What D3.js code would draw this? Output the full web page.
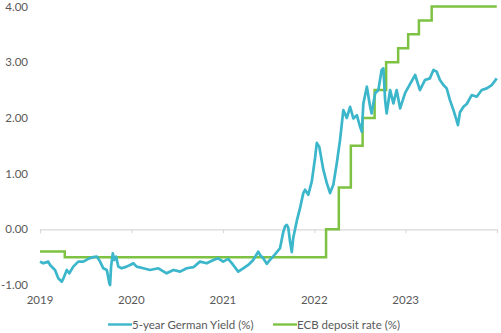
<!DOCTYPE html>
<html><head><meta charset="utf-8">
<script src="https://cdn.jsdelivr.net/npm/d3@7"></script>
<style>body{margin:0;background:#fff}svg{display:block}text{font-family:Lato,"Open Sans",sans-serif}</style>
</head><body><svg id="c" width="501" height="333"></svg>
<script>
const yieldDates = ["2019-01-01","2019-01-14","2019-02-03","2019-02-10","2019-03-02","2019-03-15","2019-03-29","2019-04-04","2019-04-18","2019-04-28","2019-05-14","2019-06-03","2019-06-23","2019-07-13","2019-08-02","2019-08-16","2019-08-29","2019-09-11","2019-09-25","2019-10-05","2019-10-08","2019-10-12","2019-10-19","2019-10-24","2019-11-01","2019-11-10","2019-11-23","2019-12-13","2019-12-27","2020-01-09","2020-01-22","2020-02-18","2020-03-16","2020-04-18","2020-05-21","2020-06-17","2020-07-14","2020-08-09","2020-09-05","2020-10-01","2020-10-28","2020-11-24","2020-12-13","2021-01-02","2021-01-22","2021-02-11","2021-03-03","2021-03-23","2021-04-12","2021-05-02","2021-05-22","2021-05-29","2021-06-11","2021-06-25","2021-07-08","2021-07-28","2021-08-17","2021-08-30","2021-09-06","2021-09-13","2021-09-19","2021-09-26","2021-10-03","2021-10-09","2021-10-23","2021-11-05","2021-11-18","2021-11-25","2021-12-08","2021-12-22","2022-01-04","2022-01-11","2022-01-21","2022-02-06","2022-02-20","2022-03-05","2022-03-18","2022-04-01","2022-04-14","2022-04-27","2022-05-11","2022-05-24","2022-06-06","2022-06-20","2022-07-03","2022-07-10","2022-07-16","2022-07-30","2022-08-12","2022-08-18","2022-09-01","2022-09-14","2022-09-27","2022-10-04","2022-10-11","2022-10-17","2022-10-31","2022-11-13","2022-11-26","2022-12-10","2022-12-30","2023-01-19","2023-02-08","2023-02-27","2023-03-19","2023-04-08","2023-04-22","2023-05-05","2023-05-18","2023-06-01","2023-06-14","2023-06-27","2023-07-11","2023-07-24","2023-07-29","2023-08-06","2023-08-20","2023-09-02","2023-09-22","2023-10-12","2023-11-01","2023-11-21","2023-12-11","2023-12-31"];
const yieldValues = [-0.58,-0.61,-0.58,-0.64,-0.73,-0.88,-0.94,-0.89,-0.73,-0.79,-0.67,-0.58,-0.58,-0.53,-0.50,-0.49,-0.58,-0.70,-0.73,-0.97,-1.00,-0.67,-0.43,-0.55,-0.49,-0.67,-0.70,-0.67,-0.64,-0.61,-0.67,-0.70,-0.73,-0.70,-0.79,-0.73,-0.76,-0.70,-0.68,-0.58,-0.61,-0.55,-0.52,-0.58,-0.53,-0.64,-0.76,-0.70,-0.64,-0.55,-0.40,-0.46,-0.52,-0.62,-0.55,-0.45,-0.34,-0.05,0.05,0.08,0.03,-0.22,-0.41,-0.15,0.15,0.38,0.65,0.71,0.62,0.86,1.28,1.55,1.48,1.07,0.83,0.65,0.80,1.19,1.61,2.14,2.00,2.20,1.99,2.05,1.84,1.75,2.26,2.56,2.20,2.08,2.44,2.50,2.86,2.89,2.32,2.08,2.50,2.26,2.50,2.17,2.45,2.61,2.77,2.50,2.68,2.71,2.86,2.83,2.68,2.59,2.53,2.32,2.14,1.95,1.87,2.10,2.20,2.25,2.41,2.38,2.50,2.53,2.59,2.71];
const ecbDates = ["2019-01-01","2019-04-10","2022-02-17","2022-04-09","2022-05-27","2022-07-13","2022-08-30","2022-10-15","2022-12-02","2023-01-11","2023-02-23","2023-04-15","2023-12-31"];
const ecbValues = [-0.40,-0.50,0.00,0.75,1.50,2.00,2.50,3.00,3.25,3.50,3.75,4.00,4.00];
const yTicks = [-1,0,1,2,3,4];
const xTickLabels = ["2019","2020","2021","2022","2023"];
const seriesNames = ["5-year German Yield (%)","ECB deposit rate (%)"];
const seriesColors = ["#3bb6ca","#7dc242"];

const parse = d3.timeParse("%Y-%m-%d");
const svg = d3.select("#c");
const x = d3.scaleTime().domain([new Date(2019,0,1), new Date(2024,0,1)]).range([40,497]);
const y = d3.scaleLinear().domain([-1,4]).range([285,6.5]);
const txt = "#595959";

svg.append("g").selectAll("text").data(yTicks).join("text")
  .attr("x",28).attr("y",d=>y(d)).attr("dy","0.35em").attr("text-anchor","end")
  .attr("font-size",11.5).attr("fill",txt)
  .text(d=>d3.format(".2f")(d).replace("\u2212","-"));

const xa = svg.append("g").attr("transform",`translate(0,${y(0)})`)
  .call(d3.axisBottom(x).tickValues(xTickLabels.map(t=>new Date(+t,0,1))).tickSize(4).tickFormat(""));
xa.select(".domain").attr("stroke","#d9d9d9").attr("stroke-width",1.2);
xa.selectAll(".tick line").attr("stroke","#d9d9d9");

svg.append("g").selectAll("text").data(xTickLabels).join("text")
  .attr("x",d=>x(new Date(+d,0,1))).attr("y",304).attr("text-anchor","middle")
  .attr("font-size",11.5).attr("fill",txt).text(d=>d);

const yieldData = yieldDates.map((d,i)=>[parse(d),yieldValues[i]]);
const ecbData = ecbDates.map((d,i)=>[parse(d),ecbValues[i]]);

svg.append("path").datum(ecbData).attr("fill","none").attr("stroke",seriesColors[1])
  .attr("stroke-width",2.5).attr("d",d3.line().x(d=>x(d[0])).y(d=>y(d[1])).curve(d3.curveStepAfter));
svg.append("path").datum(yieldData).attr("fill","none").attr("stroke",seriesColors[0])
  .attr("stroke-width",2.7).attr("stroke-linejoin","round").attr("d",d3.line().x(d=>x(d[0])).y(d=>y(d[1])));

const lg = [108,273];
seriesNames.forEach((n,i)=>{
  const g = svg.append("g");
  g.append("line").attr("x1",lg[i]).attr("x2",lg[i]+24).attr("y1",324.5).attr("y2",324.5)
    .attr("stroke",seriesColors[i]).attr("stroke-width",2.4);
  g.append("text").attr("x",lg[i]+24).attr("y",324.5).attr("dy","0.35em")
    .attr("font-size",11.5).attr("fill",txt).text(n);
});
</script></body></html>
